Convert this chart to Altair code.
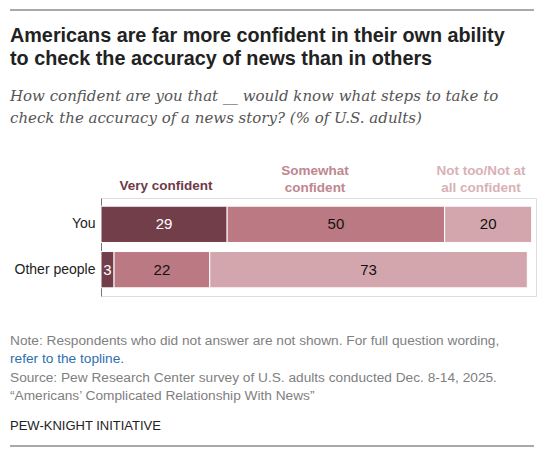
import altair as alt
import pandas as pd

# Survey results (% of U.S. adults)
groups = ["You", "Other people"]
categories = ["Very confident", "Somewhat confident", "Not too/Not at all confident"]
very_confident = [29, 3]
somewhat_confident = [50, 22]
not_confident = [20, 73]

colors = ["#723e4a", "#bb7983", "#d3a6ad"]
label_colors = ["#ffffff", "#111111", "#111111"]

rows = []
for i, g in enumerate(groups):
    for k, (cat, vals) in enumerate(zip(categories, [very_confident, somewhat_confident, not_confident])):
        rows.append({"group": g, "category": cat, "order": k, "value": vals[i],
                     "label_color": label_colors[k]})
df = pd.DataFrame(rows)

W, H = 435, 98
OX, OY = 101, 198  # plot origin on the page

base = alt.Chart(df).transform_stack(
    stack="value", groupby=["group"], as_=["x0", "x1"],
    sort=[alt.SortField("order", order="ascending")],
).transform_calculate(mid="(datum.x0 + datum.x1) / 2")

xscale = alt.Scale(domain=[0, 100], nice=False, zero=True)
yscale = alt.Scale(domain=groups, paddingInner=0.2, paddingOuter=0.18)

bars = base.mark_bar(stroke="white", strokeWidth=1).encode(
    x=alt.X("x0:Q", scale=xscale, axis=None),
    x2="x1:Q",
    y=alt.Y("group:N", scale=yscale, sort=groups,
            axis=alt.Axis(title=None, ticks=False, labelPadding=6, domainColor="#777777",
                          labelFont="Liberation Sans", labelFontSize=14, labelColor="#222222")),
    color=alt.Color("category:N", scale=alt.Scale(domain=categories, range=colors), legend=None),
)

labels = base.mark_text(font="Liberation Sans", fontSize=15).encode(
    x=alt.X("mid:Q", scale=xscale),
    y=alt.Y("group:N", scale=yscale, sort=groups),
    text=alt.Text("value:Q"),
    color=alt.Color("label_color:N", scale=None),
)

one = alt.Data(values=[{}])


def txt(s, x, y, size, color, font="Liberation Sans", weight="normal", style="normal", align="left"):
    return alt.Chart(one).mark_text(
        text=s, font=font, fontSize=size, color=color, fontWeight=weight, fontStyle=style,
        align=align, baseline="alphabetic",
    ).encode(x=alt.value(x - OX), y=alt.value(y - OY))


def hrule(y):
    return alt.Chart(one).mark_rule(color="#555555", strokeWidth=1.2).encode(
        x=alt.value(10 - OX), x2=alt.value(534 - OX), y=alt.value(y - OY))


texts = [
    txt("Americans are far more confident in their own ability", 10, 42, 19.8, "#222222", weight="bold"),
    txt("to check the accuracy of news than in others", 10, 65, 19.8, "#222222", weight="bold"),
    txt("How confident are you that __ would know what steps to take to", 10, 101, 15, "#555555",
        font="DejaVu Serif", style="italic"),
    txt("check the accuracy of a news story? (% of U.S. adults)", 10, 123, 15, "#555555",
        font="DejaVu Serif", style="italic"),
    txt("Very confident", 166, 190, 13.5, "#6e3b46", weight="bold", align="center"),
    txt("Somewhat", 315, 175, 13.5, "#c08690", weight="bold", align="center"),
    txt("confident", 315, 192, 13.5, "#c08690", weight="bold", align="center"),
    txt("Not too/Not at", 481, 175, 13.5, "#d8b1b7", weight="bold", align="center"),
    txt("all confident", 481, 192, 13.5, "#d8b1b7", weight="bold", align="center"),
    txt("Note: Respondents who did not answer are not shown. For full question wording,", 10, 345, 13.7, "#808080"),
    txt("refer to the topline.", 10, 363, 13.7, "#2f6fb0"),
    txt("Source: Pew Research Center survey of U.S. adults conducted Dec. 8-14, 2025.", 10, 382, 13.7, "#808080"),
    txt("\u201cAmericans\u2019 Complicated Relationship With News\u201d", 10, 400, 13.7, "#808080"),
    txt("PEW-KNIGHT INITIATIVE", 10, 430, 13, "#222222"),
]

chart = alt.layer(bars, labels, hrule(10), hrule(446), *texts).properties(
    width=W, height=H,
    autosize=alt.AutoSizeParams(type="none"),
    padding={"left": OX, "top": OY, "right": 544 - OX - W, "bottom": 455 - OY - H},
).configure_view(stroke=None).configure(background="white")

chart.save("out.html", embed_options={"renderer": "svg", "actions": False})
